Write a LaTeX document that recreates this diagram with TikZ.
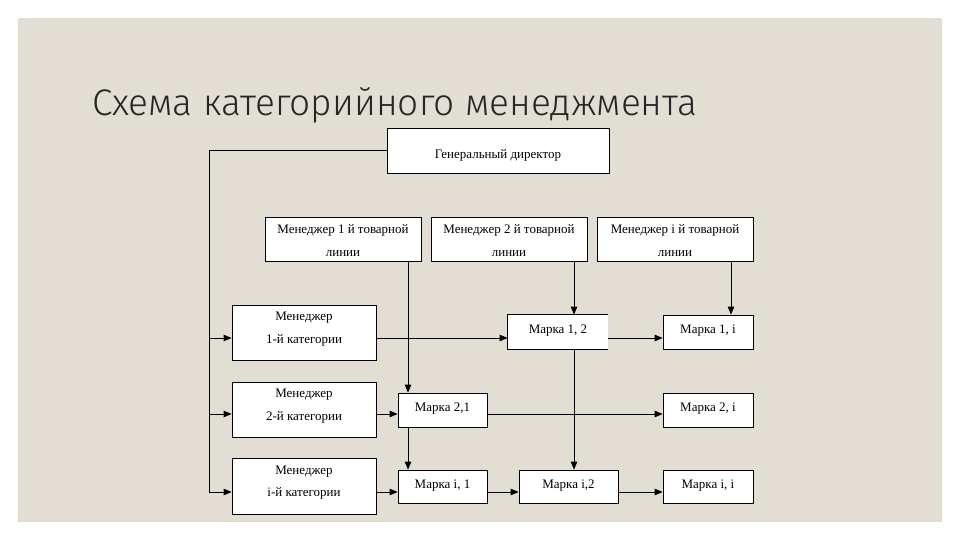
\documentclass[tikz,border=0pt]{standalone}
\usepackage{fontspec}
\setmainfont{Liberation Serif}
\newfontfamily\titlefont{Fira Sans Light}
\newfontfamily\boxfont{Liberation Serif}
\usetikzlibrary{arrows.meta}
\definecolor{bgc}{HTML}{E2DED4}
\definecolor{titlec}{HTML}{262626}
\newcommand\bt[2]{\raisebox{#1}[0pt][0pt]{\renewcommand{\arraystretch}{1.45}\begin{tabular}[c]{@{}c@{}}#2\end{tabular}}}
\begin{document}
\begin{tikzpicture}[x=1pt,y=-1pt,
  box/.style={draw=black, fill=white, line width=0.8pt, inner sep=0pt,
    font=\boxfont\fontsize{13}{15.6}\selectfont},
  arr/.style={line width=0.8pt, -{Triangle[length=8pt,width=6.5pt]}},
  ln/.style={line width=0.8pt}]
\useasboundingbox (0,0) rectangle (960,540);
\fill[white] (0,0) rectangle (960,540);
\fill[bgc] (18,18) rectangle (942,522);

\node[anchor=base west, font=\titlefont\fontsize{37}{41}\selectfont, text=titlec, inner sep=0pt] (title) at (92,116) {Схема категорийного менеджмента};

% top
\node[box, minimum width=222pt, minimum height=45pt] (gd) at (498,150.5) {\bt{-6pt}{Генеральный директор}};
% product line managers
\node[box, minimum width=156pt, minimum height=44pt] (mgr1) at (343,239.5) {\bt{-4pt}{Менеджер 1 й товарной\\линии}};
\node[box, minimum width=156pt, minimum height=44pt] (mgr2) at (509,239.5) {\bt{-4pt}{Менеджер 2 й товарной\\линии}};
\node[box, minimum width=156pt, minimum height=44pt] (mgri) at (675,239.5) {\bt{-4pt}{Менеджер i й товарной\\линии}};
% category managers
\node[box, minimum width=144pt, minimum height=55pt] (cat1) at (304,332.5) {\bt{2pt}{Менеджер\\1-й категории}};
\node[box, minimum width=144pt, minimum height=55pt] (cat2) at (304,409.5) {\bt{2pt}{Менеджер\\2-й категории}};
\node[box, minimum width=144pt, minimum height=56pt] (cati) at (304,486) {\bt{2pt}{Менеджер\\i-й категории}};
% brands
\node[box, draw=none, minimum width=100pt, minimum height=34pt] (m12) at (558,332) {\bt{0pt}{Марка 1, 2}};
\draw[ln] (m12.north east) -- (m12.north west) -- (m12.south west) -- (m12.south east);
\node[box, minimum width=90pt, minimum height=34pt] (m1i) at (708,332) {\bt{0pt}{Марка 1, i}};
\node[box, minimum width=89pt, minimum height=34pt] (m21) at (442.5,410) {\bt{0pt}{Марка 2,1}};
\node[box, minimum width=90pt, minimum height=34pt] (m2i) at (708,410) {\bt{0pt}{Марка 2, i}};
\node[box, minimum width=89pt, minimum height=33pt] (mi1) at (442.5,486.5) {\bt{0pt}{Марка i, 1}};
\node[box, minimum width=99pt, minimum height=33pt] (mi2) at (568.5,486.5) {\bt{0pt}{Марка i,2}};
\node[box, minimum width=90pt, minimum height=33pt] (mii) at (708,486.5) {\bt{0pt}{Марка i, i}};

% guide coordinates
\coordinate (tr) at (209,0);
\coordinate (v1) at (408,0);
\coordinate (v2) at (574,0);
\coordinate (v3) at (731,0);
\coordinate (r1) at (0,338);
\coordinate (r2) at (0,414);
\coordinate (r3) at (0,492);

% trunk from general director
\draw[ln] (gd.west) -| (tr |- r3);
\draw[arr] (tr |- r1) -- (cat1.west |- r1);
\draw[arr] (tr |- r2) -- (cat2.west |- r2);
\draw[arr] (tr |- r3) -- (cati.west |- r3);

% product line verticals
\draw[arr] (v1 |- mgr1.south) -- (v1 |- m21.north);
\draw[arr] (v1 |- m21.south) -- (v1 |- mi1.north);
\draw[arr] (v2 |- mgr2.south) -- (v2 |- m12.north);
\draw[arr] (v2 |- m12.south) -- (v2 |- mi2.north);
\draw[arr] (v3 |- mgri.south) -- (v3 |- m1i.north);

% category rows
\draw[arr] (cat1.east |- r1) -- (m12.west |- r1);
\draw[arr] (m12.east |- r1) -- (m1i.west |- r1);
\draw[arr] (cat2.east |- r2) -- (m21.west |- r2);
\draw[arr] (m21.east |- r2) -- (m2i.west |- r2);
\draw[arr] (cati.east |- r3) -- (mi1.west |- r3);
\draw[arr] (mi1.east |- r3) -- (mi2.west |- r3);
\draw[arr] (mi2.east |- r3) -- (mii.west |- r3);
\end{tikzpicture}
\end{document}
